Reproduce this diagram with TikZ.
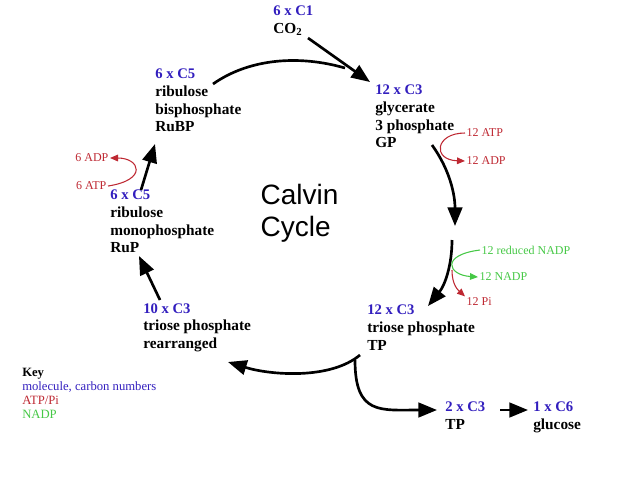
\documentclass[tikz,border=0pt]{standalone}
\usepackage{fontspec}
\setmainfont{Liberation Serif}
\newfontfamily\sansf{Liberation Sans}
\usetikzlibrary{arrows.meta}
\definecolor{mblue}{RGB}{50,30,190}
\definecolor{mred}{RGB}{190,40,50}
\definecolor{mgreen}{RGB}{70,200,70}
\begin{document}
\begin{tikzpicture}[x=0.75pt,y=-0.75pt,
 lbl/.style={anchor=north west,align=left,inner sep=0pt,font=\bfseries\fontsize{11.5}{13.2}\selectfont},
 big/.style={line width=2pt,-{Triangle[length=14pt,width=11pt]}},
 side/.style={line width=0.8pt,-{Triangle[length=6pt,width=5pt]}},
 sm/.style={font=\fontsize{9}{11}\selectfont,inner sep=1pt}]
\useasboundingbox (0,0) rectangle (638,479);
\newcommand\bn[1]{\textcolor{mblue}{\fontsize{11}{13}\selectfont #1}}
\node[lbl] (c1) at (273,6) {\bn{6 x C1}\\CO\textsubscript{2}};
\node[lbl] (gp) at (375,85) {\bn{12 x C3}\\glycerate\\3 phosphate\\GP};
\node[lbl] (tp) at (367,305) {\bn{12 x C3}\\triose phosphate\\TP};
\node[lbl] (re) at (143,303) {\bn{10 x C3}\\triose phosphate\\rearranged};
\node[lbl] (rup) at (110,190) {\bn{6 x C5}\\ribulose\\monophosphate\\RuP};
\node[lbl] (rubp) at (155,69) {\bn{6 x C5}\\ribulose\\bisphosphate\\RuBP};
\node[lbl] (tp2) at (445,402) {\bn{2 x C3}\\TP};
\node[lbl] (gl) at (533,402) {\bn{1 x C6}\\glucose};
\node[font=\sansf\fontsize{21}{24}\selectfont,align=left,anchor=west] (cc) at (256,213) {Calvin\\Cycle};
% side labels
\node[sm,text=mred,anchor=west] (atp12) at (465,133) {12 ATP};
\node[sm,text=mred,anchor=west] (adp12) at (465,161) {12 ADP};
\node[sm,text=mgreen,anchor=west] (rn) at (480,250) {12 reduced NADP};
\node[sm,text=mgreen,anchor=west] (n12) at (478,277) {12 NADP};
\node[sm,text=mred,anchor=west] (pi) at (465,302) {12 Pi};
\node[sm,text=mred,anchor=east] (adp6) at (110,158) {6 ADP};
\node[sm,text=mred,anchor=east] (atp6) at (108,186) {6 ATP};
% key
\node[anchor=north west,inner sep=0pt,align=left,font=\fontsize{9.5}{10.5}\selectfont] (key) at (22,368) {\textbf{Key}\\\textcolor{mblue}{molecule, carbon numbers}\\\textcolor{mred}{ATP/Pi}\\\textcolor{mgreen}{NADP}};
% cycle arrows
\coordinate (co2e) at (308,38);
\draw[big] (co2e) -- (370,82);
\draw[line width=2pt] (213,84) .. controls (250,58) and (300,55) .. (345,68);
\draw[big] (432,145) .. controls (450,170) and (455,195) .. (455,226);
\draw[big] (452,240) .. controls (452,265) and (445,285) .. (428,306);
\draw[big] (360,355) .. controls (330,380) and (270,375) .. (228,362);
\draw[big] (355,360) .. controls (355,415) and (380,410) .. (437,410);
\draw[big] (500,410) -- (528,410);
\draw[big] (160,300) -- (139,256);
\draw[big] (141,190) -- (155,144);
% side arrows
\draw[side,mred] (atp12.west) .. controls (435,133) and (432,160) .. (adp12.west);
\draw[side,mgreen] (rn.west) .. controls (440,255) and (448,275) .. (n12.west);
\draw[side,mred] (452,270) .. controls (452,285) and (458,290) .. (pi.north west);
\draw[side,mred] (atp6.east) .. controls (148,180) and (140,158) .. (adp6.east);
\end{tikzpicture}
\end{document}
